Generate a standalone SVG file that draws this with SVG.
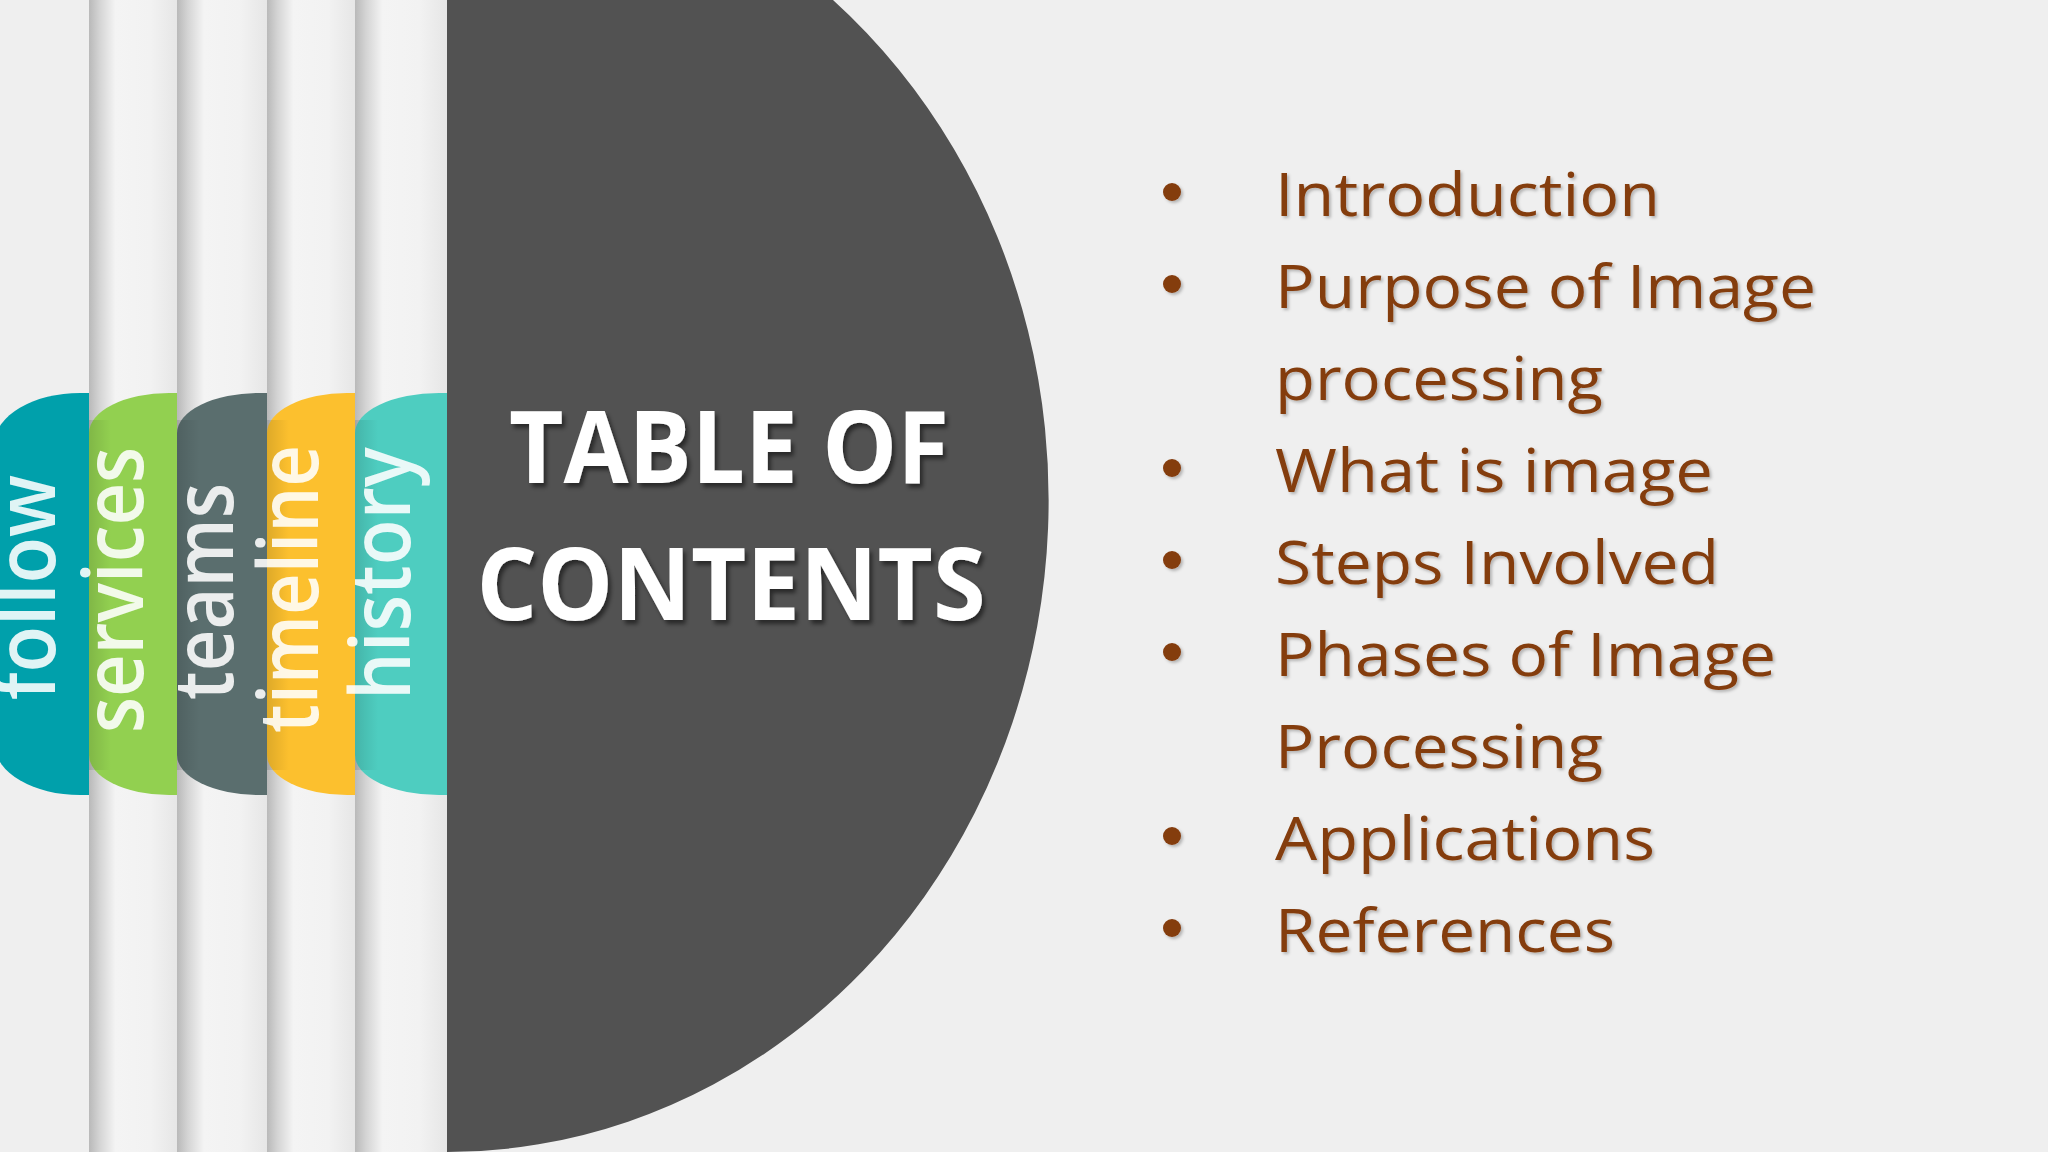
<svg xmlns="http://www.w3.org/2000/svg" width="2048" height="1152" viewBox="0 0 2048 1152">
<defs>
<linearGradient id="strip" x1="0" y1="0" x2="1" y2="0">
<stop offset="0" stop-color="#b9b9b9"/><stop offset="0.12" stop-color="#d4d4d4"/><stop offset="0.3" stop-color="#f4f4f4"/><stop offset="0.7" stop-color="#f2f2f2"/><stop offset="1" stop-color="#e6e6e6"/>
</linearGradient>
<linearGradient id="tabsh" x1="0" y1="0" x2="1" y2="0">
<stop offset="0" stop-color="#000" stop-opacity="0.12"/><stop offset="0.25" stop-color="#000" stop-opacity="0"/>
</linearGradient>
<filter id="sh" x="-10%" y="-10%" width="120%" height="130%"><feDropShadow dx="3" dy="4" stdDeviation="2" flood-color="#000" flood-opacity="0.5"/></filter>
<filter id="sh2" x="-10%" y="-10%" width="120%" height="130%"><feDropShadow dx="2" dy="2" stdDeviation="1.5" flood-color="#000" flood-opacity="0.25"/></filter>
</defs>
<style>
.tab{font-family:"Open Sans","Noto Sans",sans-serif;font-weight:600;font-size:84px;fill:#fff;fill-opacity:0.88}
.title{font-family:"Open Sans","Noto Sans",sans-serif;font-weight:bold;font-size:100px;fill:#fff}
.item{font-family:"Open Sans","Noto Sans",sans-serif;font-size:60px;fill:#843c0c}
.dot{fill:#843c0c}
</style>
<rect width="2048" height="1152" fill="#efefef"/>
<g id="strips">
<rect x="89" y="0" width="88" height="1152" fill="url(#strip)"/>
<rect x="177" y="0" width="90" height="1152" fill="url(#strip)"/>
<rect x="267" y="0" width="88" height="1152" fill="url(#strip)"/>
<rect x="355" y="0" width="92" height="1152" fill="url(#strip)"/>
</g>
<g id="tabs">
<path d="M89,393 V795 H80 A85,50 0 0 1 -5,745 V443 A85,50 0 0 1 80,393 Z" fill="#00a0ab"/>
<path d="M177,393 V795 H169 A80,40 0 0 1 89,755 V433 A80,40 0 0 1 169,393 Z" fill="#92d050"/>
<path d="M267,393 V795 H259 A82,40 0 0 1 177,755 V433 A82,40 0 0 1 259,393 Z" fill="#5a6e6e"/>
<path d="M355,393 V795 H347 A80,40 0 0 1 267,755 V433 A80,40 0 0 1 347,393 Z" fill="#fcc02e"/>
<path d="M447,393 V795 H439 A84,40 0 0 1 355,755 V433 A84,40 0 0 1 439,393 Z" fill="#4ecdc0"/>
<rect x="89" y="420" width="88" height="350" fill="url(#tabsh)"/>
<rect x="177" y="420" width="90" height="350" fill="url(#tabsh)"/>
<rect x="267" y="420" width="88" height="350" fill="url(#tabsh)"/>
<rect x="355" y="420" width="92" height="350" fill="url(#tabsh)"/>
</g>
<g id="tab-labels">
<text class="tab" transform="translate(55,700) rotate(-90)" textLength="225" lengthAdjust="spacingAndGlyphs">follow</text>
<text class="tab" transform="translate(143,733) rotate(-90)" textLength="286" lengthAdjust="spacingAndGlyphs">services</text>
<text class="tab" transform="translate(233,700) rotate(-90)" textLength="217" lengthAdjust="spacingAndGlyphs">teams</text>
<text class="tab" transform="translate(318,733) rotate(-90)" textLength="288" lengthAdjust="spacingAndGlyphs">timeline</text>
<text class="tab" transform="translate(410,700) rotate(-90)" textLength="253" lengthAdjust="spacingAndGlyphs">history</text>
</g>
<g id="title-node">
<path d="M447,0 H833 A602,652 0 0 1 447,1152 Z" fill="#525252"/>
<text class="title" x="729" y="483" text-anchor="middle" textLength="440" lengthAdjust="spacingAndGlyphs" filter="url(#sh)">TABLE OF</text>
<text class="title" x="731" y="620" text-anchor="middle" textLength="509" lengthAdjust="spacingAndGlyphs" filter="url(#sh)">CONTENTS</text>
</g>
<g id="contents" filter="url(#sh2)">
<circle class="dot" cx="1172" cy="192" r="9"/>
<circle class="dot" cx="1172" cy="284" r="9"/>
<circle class="dot" cx="1172" cy="468" r="9"/>
<circle class="dot" cx="1172" cy="560" r="9"/>
<circle class="dot" cx="1172" cy="652" r="9"/>
<circle class="dot" cx="1172" cy="836" r="9"/>
<circle class="dot" cx="1172" cy="928" r="9"/>
<text class="item" x="1275" y="216" textLength="385" lengthAdjust="spacingAndGlyphs">Introduction</text>
<text class="item" x="1275" y="308" textLength="541" lengthAdjust="spacingAndGlyphs">Purpose of Image</text>
<text class="item" x="1275" y="400" textLength="328" lengthAdjust="spacingAndGlyphs">processing</text>
<text class="item" x="1275" y="492" textLength="438" lengthAdjust="spacingAndGlyphs">What is image</text>
<text class="item" x="1275" y="584" textLength="444" lengthAdjust="spacingAndGlyphs">Steps Involved</text>
<text class="item" x="1275" y="676" textLength="501" lengthAdjust="spacingAndGlyphs">Phases of Image</text>
<text class="item" x="1275" y="768" textLength="328" lengthAdjust="spacingAndGlyphs">Processing</text>
<text class="item" x="1275" y="860" textLength="380" lengthAdjust="spacingAndGlyphs">Applications</text>
<text class="item" x="1275" y="952" textLength="340" lengthAdjust="spacingAndGlyphs">References</text>
</g>
</svg>
